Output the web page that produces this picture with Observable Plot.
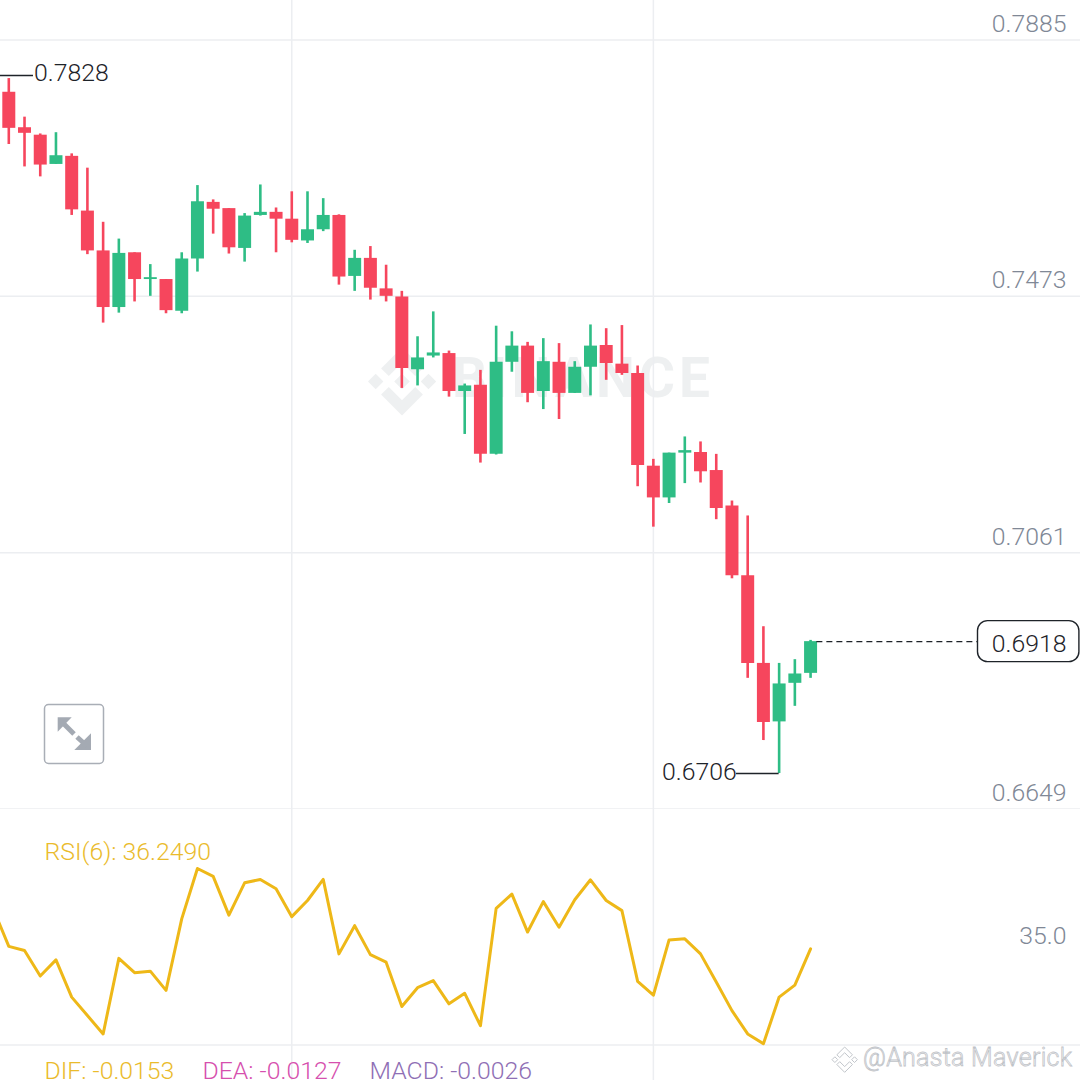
<!DOCTYPE html>
<html>
<head>
<meta charset="utf-8">
<script src="https://cdn.jsdelivr.net/npm/d3@7"></script>
<script src="https://cdn.jsdelivr.net/npm/@observablehq/plot@0.6"></script>
<style>
  html, body { margin: 0; padding: 0; background: #fff; width: 1080px; height: 1080px; overflow: hidden; }
  #stage { position: relative; width: 1080px; height: 1080px; }
  #back, #front { position: absolute; left: 0; top: 0; }
  #charts { position: absolute; left: 0; top: 0; width: 1080px; }
  #charts svg { display: block; background: transparent; }
</style>
</head>
<body>
<div id="stage">
  <svg id="back" width="1080" height="1080" xmlns="http://www.w3.org/2000/svg">
    <g transform="translate(368,347.5) scale(0.537)" fill="#eef0f1">
      <path d="M38.73 53.2l24.59-24.58 24.6 24.6 14.3-14.31L63.32 0 24.43 38.9zm-38.73 10.12l14.3-14.31 14.31 14.31-14.31 14.3zm38.73 10.1l24.59 24.58 24.6-24.6 14.31 14.29-38.9 38.91-38.91-38.88-.02-.02zm59.58-10.1l14.3-14.31 14.31 14.31-14.31 14.3z"/>
      <path d="M77.83 63.3L63.32 48.78 52.59 59.51l-1.24 1.23-2.54 2.54 14.51 14.5 14.51-14.47z"/>
    </g>
    <text x="452" y="397" font-family="Roboto" font-weight="700" font-size="55" fill="#eef0f1" textLength="258" lengthAdjust="spacing">BINANCE</text>
  </svg>
  <div id="charts"></div>
  <svg id="front" width="1080" height="1080" xmlns="http://www.w3.org/2000/svg">
    <rect x="44.5" y="704.5" width="59" height="59" rx="4" fill="#fff" stroke="#a9aeb6" stroke-width="1.5"/>
    <g fill="#a4aab3" stroke="none">
      <path d="M57.7 717.3H71.7L57.7 731.7Z"/>
      <path d="M91 750H74.3L91 733.3Z"/>
    </g>
    <g stroke="#a4aab3" stroke-width="5" fill="none">
      <line x1="62" y1="722" x2="74" y2="734"/>
      <line x1="77" y1="737" x2="87" y2="746"/>
    </g>
    <g transform="translate(832,1047) scale(0.2)" fill="#fff" stroke="#c2c6cb" stroke-width="5">
      <path d="M38.73 53.2l24.59-24.58 24.6 24.6 14.3-14.31L63.32 0 24.43 38.9zm-38.73 10.12l14.3-14.31 14.31 14.31-14.31 14.3zm38.73 10.1l24.59 24.58 24.6-24.6 14.31 14.29-38.9 38.91-38.91-38.88-.02-.02zm59.58-10.1l14.3-14.31 14.31 14.31-14.31 14.3z"/>
    </g>
    <text x="863" y="1066" font-family="Roboto" font-weight="300" font-size="25" fill="#fff" stroke="#bfc3c8" stroke-width="0.8" textLength="209" lengthAdjust="spacing">@Anasta Maverick</text>
  </svg>
</div>
<script>
const open = [0.7801,0.7744,0.7732,0.7685,0.7698,0.7610,0.7546,0.7455,0.7543,0.7500,0.7500,0.7449,0.7533,0.7624,0.7614,0.7550,0.7603,0.7608,0.7597,0.7562,0.7580,0.7603,0.7505,0.7534,0.7485,0.7472,0.7355,0.7377,0.7381,0.7320,0.7330,0.7219,0.7367,0.7393,0.7320,0.7367,0.7317,0.7359,0.7394,0.7364,0.7349,0.7200,0.7149,0.7221,0.7222,0.7193,0.7136,0.7024,0.6883,0.6789,0.6851,0.6867];
const close = [0.7743,0.7735,0.7684,0.7699,0.7612,0.7546,0.7455,0.7542,0.7500,0.7503,0.7450,0.7533,0.7625,0.7613,0.7551,0.7602,0.7608,0.7597,0.7563,0.7580,0.7603,0.7504,0.7534,0.7486,0.7473,0.7357,0.7374,0.7382,0.7320,0.7329,0.7219,0.7367,0.7393,0.7317,0.7368,0.7317,0.7359,0.7393,0.7365,0.7349,0.7201,0.7149,0.7221,0.7225,0.7191,0.7132,0.7024,0.6883,0.6788,0.6850,0.6866,0.6918];
const high = [0.7823,0.7761,0.7734,0.7736,0.7702,0.7679,0.7592,0.7565,0.7543,0.7524,0.7500,0.7543,0.7651,0.7628,0.7614,0.7606,0.7652,0.7615,0.7641,0.7641,0.7630,0.7604,0.7547,0.7553,0.7523,0.7481,0.7408,0.7448,0.7385,0.7332,0.7354,0.7425,0.7416,0.7399,0.7405,0.7397,0.7368,0.7427,0.7421,0.7426,0.7361,0.7211,0.7221,0.7247,0.7239,0.7219,0.7144,0.7120,0.6942,0.6883,0.6889,0.6920];
const low = [0.7717,0.7681,0.7665,0.7685,0.7603,0.7540,0.7430,0.7446,0.7464,0.7473,0.7445,0.7445,0.7512,0.7573,0.7541,0.7528,0.7602,0.7543,0.7559,0.7558,0.7577,0.7491,0.7481,0.7467,0.7464,0.7325,0.7329,0.7374,0.7311,0.7251,0.7205,0.7218,0.7351,0.7302,0.7291,0.7275,0.7317,0.7313,0.7338,0.7346,0.7167,0.7102,0.7140,0.7172,0.7173,0.7114,0.7019,0.6859,0.6759,0.6706,0.6814,0.6859];
const rsi = [47.0,36.9,35.8,29.0,33.3,23.4,18.5,13.6,33.7,29.9,30.3,25.2,44.2,57.6,55.5,45.2,53.8,54.7,52.2,44.8,49.1,54.7,34.9,42.4,34.7,32.7,20.9,25.9,27.8,21.6,24.4,15.8,47.0,50.8,40.7,48.8,42.0,49.3,54.6,49.1,46.4,27.6,23.9,38.6,38.9,34.9,27.4,19.8,13.6,11.0,23.4,26.6,36.249];
const priceTicks = [0.7885,0.7473,0.7061,0.6649];
const timeTicks = [18,41];
const rsiTick = [35.0];
const highPrice = 0.7828, lowPrice = 0.6706, lastPrice = 0.6918;
const macdLabels = ["DIF: -0.0153","DEA: -0.0127","MACD: -0.0026"];

const font = "Roboto";
const red = "#f6465d", green = "#2ebd85", grid = "#eceef1", ink = "#1e2329", axisInk = "#808896", gold = "#eeb818";
const fs = 24.8, fw = 300;
const candles = open.map((o,i)=>({i,open:o,close:close[i],high:high[i],low:low[i],color:close[i]>=o?green:red}));
const rsiRows = rsi.map((v,i)=>({i:i-1,v}));
const xScale = {type:"linear",domain:[-0.528,68.17],range:[0,1080],axis:null};
const common = {width:1080,marginTop:0,marginRight:0,marginBottom:0,marginLeft:0,style:{background:"transparent",fontFamily:font}};
const label = {fontSize:fs,fontWeight:fw,fontFamily:font};

const main = Plot.plot({
  ...common,
  height:809,
  x:xScale,
  y:{domain:[0.6649,0.7885],range:[808.5,39.5],axis:null},
  marks:[
    Plot.ruleY(priceTicks,{stroke:grid,strokeWidth:1.5}),
    Plot.ruleX(timeTicks,{stroke:grid,strokeWidth:1.5}),
    Plot.ruleX(candles,{x:"i",y1:"low",y2:"high",stroke:"color",strokeWidth:2.6}),
    Plot.ruleX(candles,{x:"i",y1:"open",y2:"close",stroke:"color",strokeWidth:13}),
    Plot.text(priceTicks,{y:d=>d,text:d=>d.toFixed(4),frameAnchor:"right",dx:-14,dy:-16,fill:axisInk,...label}),
    Plot.ruleY([highPrice],{x1:-0.53,x2:1.57,stroke:ink,strokeWidth:1.4}),
    Plot.text([highPrice],{x:1.6,y:d=>d,text:d=>d.toFixed(4),textAnchor:"start",dy:-2,fill:ink,...label}),
    Plot.ruleY([lowPrice],{x1:46.29,x2:49,stroke:ink,strokeWidth:1.4}),
    Plot.text([lowPrice],{x:46.3,y:d=>d,text:d=>d.toFixed(4),textAnchor:"end",dy:-1,fill:ink,...label}),
    Plot.ruleY([lastPrice],{x1:51.4,x2:61.7,stroke:ink,strokeWidth:1.4,strokeDasharray:"6 4"}),
    Plot.rect([lastPrice],{x1:61.65,x2:68.1,y1:d=>d+0.0033,y2:d=>d-0.0033,rx:10,fill:"#fff",stroke:ink,strokeWidth:1.4}),
    Plot.text([lastPrice],{y:d=>d,text:d=>d.toFixed(4),frameAnchor:"right",dx:-14,dy:2,fill:ink,...label})
  ]
});

const macdX = [44,202,369], macdColors = ["#eabb2c","#d64fae","#8f6fb5"];
const lower = Plot.plot({
  ...common,
  height:271,
  x:xScale,
  y:{domain:[10.66,73.3],range:[235.5,0],axis:null},
  marks:[
    Plot.ruleX(timeTicks,{stroke:grid,strokeWidth:1.5}),
    Plot.ruleY([10.66],{stroke:grid,strokeWidth:1.5}),
    Plot.line(rsiRows,{x:"i",y:"v",stroke:gold,strokeWidth:3,curve:"linear",strokeLinejoin:"round"}),
    Plot.text(rsiTick,{y:d=>d,text:d=>d.toFixed(1),frameAnchor:"right",dx:-14,dy:-17,fill:axisInk,...label}),
    Plot.text(["RSI(6): 36.2490"],{frameAnchor:"top-left",lineAnchor:"middle",dx:44,dy:43,fill:"#eabb2c",...label}),
    ...macdLabels.map((t,i)=>Plot.text([t],{frameAnchor:"top-left",lineAnchor:"middle",dx:macdX[i],dy:262,fill:macdColors[i],...label}))
  ]
});

document.getElementById("charts").append(main, lower);
</script>
</body>
</html>
